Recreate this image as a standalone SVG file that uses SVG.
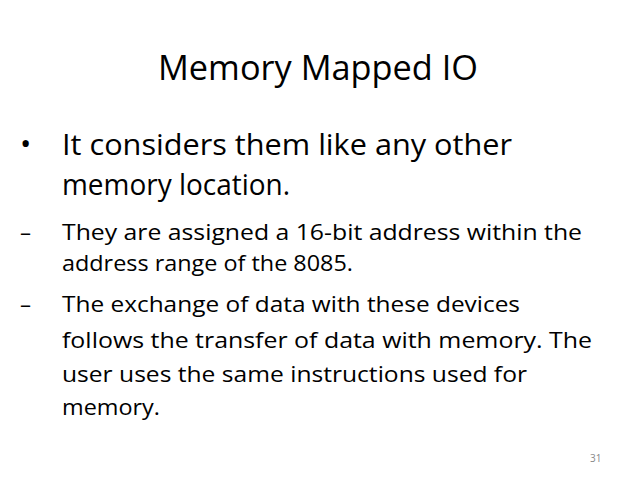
<svg xmlns="http://www.w3.org/2000/svg" width="638" height="478" viewBox="0 0 638 478">
<style>
text{font-family:"Open Sans","Liberation Sans",sans-serif;fill:#000}
.t{font-size:34px}
.b{font-size:30px}
.s{font-size:22px}
</style>
<rect width="638" height="478" fill="#fff"/>
<g id="title"><text class="t" x="158" y="80" textLength="320" lengthAdjust="spacingAndGlyphs">Memory Mapped IO</text></g>
<g id="body">
<text class="b" x="20" y="154">•</text>
<text class="b" x="62" y="155" textLength="450" lengthAdjust="spacingAndGlyphs">It considers them like any other</text>
<text class="b" x="62" y="195" textLength="228" lengthAdjust="spacingAndGlyphs">memory location.</text>
<text class="s" x="20" y="240">–</text>
<text class="s" x="62" y="240" textLength="520" lengthAdjust="spacingAndGlyphs">They are assigned a 16-bit address within the</text>
<text class="s" x="62" y="271" textLength="291" lengthAdjust="spacingAndGlyphs">address range of the 8085.</text>
<text class="s" x="20" y="312">–</text>
<text class="s" x="62" y="312" textLength="458" lengthAdjust="spacingAndGlyphs">The exchange of data with these devices</text>
<text class="s" x="62" y="348" textLength="530" lengthAdjust="spacingAndGlyphs">follows the transfer of data with memory. The</text>
<text class="s" x="62" y="382" textLength="465" lengthAdjust="spacingAndGlyphs">user uses the same instructions used for</text>
<text class="s" x="62" y="415" textLength="98" lengthAdjust="spacingAndGlyphs">memory.</text>
</g>
<g id="page"><text x="590" y="462" font-size="10" fill="#888" style="fill:#888">31</text></g>
</svg>
